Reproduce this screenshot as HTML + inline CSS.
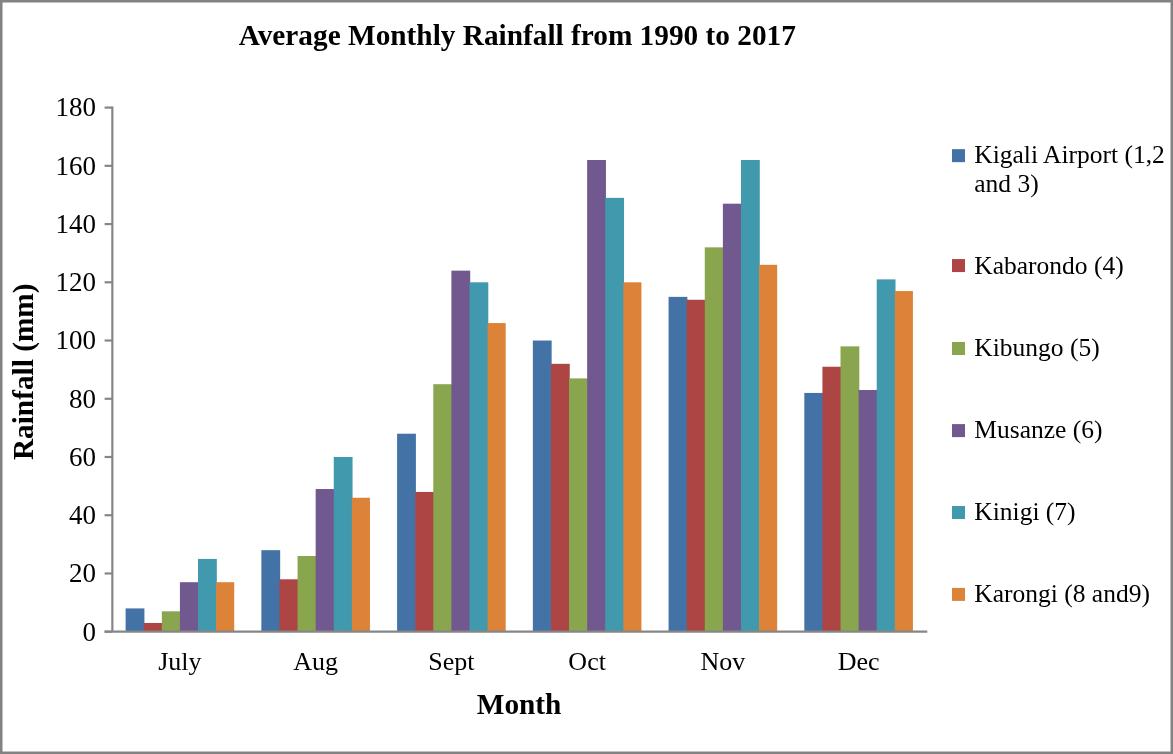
<!DOCTYPE html>
<html><head><meta charset="utf-8"><style>
html,body{margin:0;padding:0;background:#fff;}
#c{position:relative;width:1173px;height:754px;overflow:hidden;background:#fff;}
svg{position:absolute;left:0;top:0;}
.t{font-family:"Liberation Serif","Times New Roman",serif;font-size:26px;fill:#000;}
.y{font-family:"Liberation Serif","Times New Roman",serif;font-size:27px;fill:#000;}
.l{font-family:"Liberation Serif","Times New Roman",serif;font-size:25.5px;fill:#000;}
.b{font-family:"Liberation Serif","Times New Roman",serif;font-size:29.3px;font-weight:bold;fill:#000;}
</style></head><body><div id="c">
<svg width="1173" height="754" viewBox="0 0 1173 754">
<rect x="0" y="0" width="1173" height="754" fill="#fff"/>
<rect x="125.62" y="608.41" width="18.80" height="23.29" fill="#4373A6"/>
<rect x="143.72" y="622.97" width="18.80" height="8.74" fill="#AC4543"/>
<rect x="161.82" y="611.32" width="18.80" height="20.38" fill="#89A54E"/>
<rect x="179.92" y="582.20" width="18.80" height="49.50" fill="#71588F"/>
<rect x="198.02" y="558.91" width="18.80" height="72.79" fill="#4199AE"/>
<rect x="216.12" y="582.20" width="18.10" height="49.50" fill="#DD8339"/>
<rect x="261.36" y="550.17" width="18.80" height="81.53" fill="#4373A6"/>
<rect x="279.46" y="579.29" width="18.80" height="52.41" fill="#AC4543"/>
<rect x="297.56" y="556.00" width="18.80" height="75.70" fill="#89A54E"/>
<rect x="315.66" y="489.03" width="18.80" height="142.67" fill="#71588F"/>
<rect x="333.76" y="457.00" width="18.80" height="174.70" fill="#4199AE"/>
<rect x="351.86" y="497.76" width="18.10" height="133.94" fill="#DD8339"/>
<rect x="397.10" y="433.71" width="18.80" height="197.99" fill="#4373A6"/>
<rect x="415.20" y="491.94" width="18.80" height="139.76" fill="#AC4543"/>
<rect x="433.30" y="384.21" width="18.80" height="247.49" fill="#89A54E"/>
<rect x="451.40" y="270.65" width="18.80" height="361.05" fill="#71588F"/>
<rect x="469.50" y="282.30" width="18.80" height="349.40" fill="#4199AE"/>
<rect x="487.60" y="323.06" width="18.10" height="308.64" fill="#DD8339"/>
<rect x="532.84" y="340.53" width="18.80" height="291.17" fill="#4373A6"/>
<rect x="550.94" y="363.83" width="18.80" height="267.87" fill="#AC4543"/>
<rect x="569.04" y="378.39" width="18.80" height="253.31" fill="#89A54E"/>
<rect x="587.14" y="160.01" width="18.80" height="471.69" fill="#71588F"/>
<rect x="605.24" y="197.86" width="18.80" height="433.84" fill="#4199AE"/>
<rect x="623.34" y="282.30" width="18.10" height="349.40" fill="#DD8339"/>
<rect x="668.58" y="296.86" width="18.80" height="334.84" fill="#4373A6"/>
<rect x="686.68" y="299.77" width="18.80" height="331.93" fill="#AC4543"/>
<rect x="704.78" y="247.36" width="18.80" height="384.34" fill="#89A54E"/>
<rect x="722.88" y="203.69" width="18.80" height="428.01" fill="#71588F"/>
<rect x="740.98" y="160.01" width="18.80" height="471.69" fill="#4199AE"/>
<rect x="759.08" y="264.83" width="18.10" height="366.87" fill="#DD8339"/>
<rect x="804.32" y="392.94" width="18.80" height="238.76" fill="#4373A6"/>
<rect x="822.42" y="366.74" width="18.80" height="264.96" fill="#AC4543"/>
<rect x="840.52" y="346.36" width="18.80" height="285.34" fill="#89A54E"/>
<rect x="858.62" y="390.03" width="18.80" height="241.67" fill="#71588F"/>
<rect x="876.72" y="279.39" width="18.80" height="352.31" fill="#4199AE"/>
<rect x="894.82" y="291.04" width="18.10" height="340.67" fill="#DD8339"/>
<line x1="112.35" y1="106.50" x2="112.35" y2="631.70" stroke="#868686" stroke-width="2.2"/>
<line x1="104.6" y1="631.70" x2="112.35" y2="631.70" stroke="#868686" stroke-width="2.2"/>
<line x1="104.6" y1="573.47" x2="112.35" y2="573.47" stroke="#868686" stroke-width="2.2"/>
<line x1="104.6" y1="515.23" x2="112.35" y2="515.23" stroke="#868686" stroke-width="2.2"/>
<line x1="104.6" y1="457.00" x2="112.35" y2="457.00" stroke="#868686" stroke-width="2.2"/>
<line x1="104.6" y1="398.77" x2="112.35" y2="398.77" stroke="#868686" stroke-width="2.2"/>
<line x1="104.6" y1="340.53" x2="112.35" y2="340.53" stroke="#868686" stroke-width="2.2"/>
<line x1="104.6" y1="282.30" x2="112.35" y2="282.30" stroke="#868686" stroke-width="2.2"/>
<line x1="104.6" y1="224.07" x2="112.35" y2="224.07" stroke="#868686" stroke-width="2.2"/>
<line x1="104.6" y1="165.83" x2="112.35" y2="165.83" stroke="#868686" stroke-width="2.2"/>
<line x1="104.6" y1="107.60" x2="112.35" y2="107.60" stroke="#868686" stroke-width="2.2"/>
<line x1="104.6" y1="631.70" x2="927.30" y2="631.70" stroke="#868686" stroke-width="2.2"/>
<text x="96.1" y="640.50" text-anchor="end" class="y">0</text>
<text x="96.1" y="582.27" text-anchor="end" class="y">20</text>
<text x="96.1" y="524.03" text-anchor="end" class="y">40</text>
<text x="96.1" y="465.80" text-anchor="end" class="y">60</text>
<text x="96.1" y="407.57" text-anchor="end" class="y">80</text>
<text x="96.1" y="349.33" text-anchor="end" class="y">100</text>
<text x="96.1" y="291.10" text-anchor="end" class="y">120</text>
<text x="96.1" y="232.87" text-anchor="end" class="y">140</text>
<text x="96.1" y="174.63" text-anchor="end" class="y">160</text>
<text x="96.1" y="116.40" text-anchor="end" class="y">180</text>
<text x="179.92" y="669.8" text-anchor="middle" class="t">July</text>
<text x="315.66" y="669.8" text-anchor="middle" class="t">Aug</text>
<text x="451.40" y="669.8" text-anchor="middle" class="t">Sept</text>
<text x="587.14" y="669.8" text-anchor="middle" class="t">Oct</text>
<text x="722.88" y="669.8" text-anchor="middle" class="t">Nov</text>
<text x="858.62" y="669.8" text-anchor="middle" class="t">Dec</text>
<text x="517.3" y="44.8" text-anchor="middle" class="b">Average Monthly Rainfall from 1990 to 2017</text>
<text x="519.1" y="713.8" text-anchor="middle" class="b">Month</text>
<text transform="translate(32.9,371.8) rotate(-90)" x="0" y="0" text-anchor="middle" class="b">Rainfall (mm)</text>
<rect x="952" y="149.15" width="13" height="13" fill="#4373A6"/>
<text x="974.3" y="162.75" class="l">Kigali Airport (1,2</text>
<rect x="952" y="259.06" width="13" height="13" fill="#AC4543"/>
<text x="974.3" y="274.35" class="l">Kabarondo (4)</text>
<rect x="952" y="342.00" width="13" height="13" fill="#89A54E"/>
<text x="974.3" y="356.35" class="l">Kibungo (5)</text>
<rect x="952" y="424.10" width="13" height="13" fill="#71588F"/>
<text x="974.3" y="438.35" class="l">Musanze (6)</text>
<rect x="952" y="506.00" width="13" height="13" fill="#4199AE"/>
<text x="974.3" y="520.35" class="l">Kinigi (7)</text>
<rect x="952" y="587.90" width="13" height="13" fill="#DD8339"/>
<text x="974.3" y="602.45" class="l">Karongi (8 and9)</text>
<text x="974.3" y="191.75" class="l">and 3)</text>
<rect x="1.25" y="1.25" width="1170.5" height="751.5" fill="none" stroke="#828282" stroke-width="2.5"/>
</svg></div></body></html>
